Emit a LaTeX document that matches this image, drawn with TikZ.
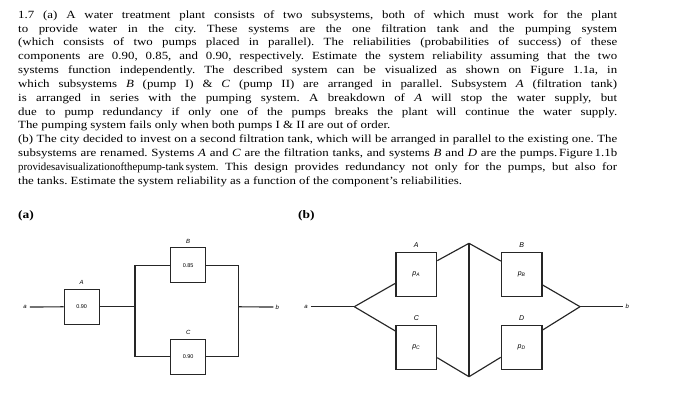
\documentclass[tikz,border=0pt]{standalone}
\usepackage{fontspec}
\setmainfont{Liberation Serif}[FakeStretch=1.17]
\newfontfamily\squeezed{Liberation Serif}[FakeStretch=0.98]
\newfontfamily\diagfont{Liberation Sans}
\begin{document}
\begin{tikzpicture}[x=1pt,y=-1pt,
  blk/.style={draw=black!85, line width=1.15pt, inner sep=0pt, font=\diagfont\fontsize{5.5}{6}\selectfont},
  blkb/.style={blk, minimum width=40.7pt, minimum height=44pt, font=\diagfont\itshape\fontsize{7}{8}\selectfont},
  wire/.style={draw=black!85, line width=1.15pt},
  lab/.style={inner sep=0pt, font=\diagfont\itshape\fontsize{6}{7}\selectfont},
  labb/.style={inner sep=0pt, font=\diagfont\itshape\fontsize{7}{8}\selectfont},
  para/.style={inner sep=0pt, anchor=base west, text width=599pt, align=justify, font=\fontsize{11}{13.83}\selectfont},
  sublab/.style={inner sep=0pt, anchor=base west, font=\bfseries\fontsize{11.5}{12}\selectfont}]
\useasboundingbox (0,0) rectangle (680,402);

% ---------- text ----------
\node[para] (txt) at (18,18.3) {\hbadness=10000\hyphenpenalty=10000\frenchspacing
1.7 (a) A water treatment plant consists of two subsystems, both of which must work for the plant\linebreak
to provide water in the city. These systems are the one filtration tank and the pumping system\linebreak
(which consists of two pumps placed in parallel). The reliabilities (probabilities of success) of these\linebreak
components are 0.90, 0.85, and 0.90, respectively. Estimate the system reliability assuming that the two\linebreak
systems function independently. The described system can be visualized as shown on Figure 1.1a, in\linebreak
which subsystems \textit{B} (pump I) \& \textit{C} (pump II) are arranged in parallel. Subsystem \textit{A} (filtration tank)\linebreak
is arranged in series with the pumping system. A breakdown of \textit{A} will stop the water supply, but\linebreak
due to pump redundancy if only one of the pumps breaks the plant will continue the water supply.\linebreak
The pumping system fails only when both pumps I \& II are out of order.\par
(b) The city decided to invest on a second filtration tank, which will be arranged in parallel to the existing one. The\linebreak
subsystems are renamed. Systems \textit{A} and \textit{C} are the filtration tanks, and systems \textit{B} and \textit{D} are the pumps.\,Figure\,1.1b\linebreak
{\squeezed providesavisualizationofthepump-tank\,system.} This design provides redundancy not only for the pumps, but also for\linebreak
the tanks. Estimate the system reliability as a function of the component's reliabilities.};

\node[sublab] (la) at (18,218) {(a)};
\node[sublab] (lb) at (298,218) {(b)};

% ---------- diagram (a) ----------
\node[lab] (ta) at (25,307) {a};
\node[blk, minimum size=35pt] (A1) at (81.7,306.8) {0.90};
\node[lab] (lA1) at ([yshift=6pt]A1.north) {A};
\coordinate (s1) at (135,306.8);
\coordinate (s1t) at (135,265.2);
\coordinate (s1b) at (135,356.8);
\node[blk, minimum size=35pt] (B1) at (188.2,265.2) {0.85};
\node[lab] (lB1) at ([yshift=5.5pt]B1.north) {B};
\node[blk, minimum size=35pt] (C1) at (188.2,356.8) {0.90};
\node[lab] (lC1) at ([yshift=6pt]C1.north) {C};
\coordinate (m1t) at (238.3,265.2);
\coordinate (m1b) at (238.3,356.8);
\coordinate (m1) at (238.3,306.8);
\node[lab] (tb) at (277.3,307) {b};

\draw[wire] ([xshift=3pt]ta.east) -- (A1.west);
\draw[wire] (A1.east) -- (s1);
\draw[wire] (s1t) -- (s1b);
\draw[wire] (s1t) -- (B1.west);
\draw[wire] (s1b) -- (C1.west);
\draw[wire] (B1.east) -- (m1t);
\draw[wire] (C1.east) -- (m1b);
\draw[wire] (m1t) -- (m1b);
\draw[wire] (m1) -- ([xshift=-2pt]tb.west);

% ---------- diagram (b) ----------
\node[lab] (ta2) at (306,306.7) {a};
\coordinate (f) at (354.3,306.7);
\node[blkb] (A2) at (416.3,274.3) {p\textsubscript{A}};
\node[labb] (lA2) at ([yshift=6.3pt]A2.north) {A};
\node[blkb] (C2) at (416.3,347.2) {p\textsubscript{C}};
\node[labb] (lC2) at ([yshift=6.7pt]C2.north) {C};
\node[blkb] (B2) at (521.7,274.3) {p\textsubscript{B}};
\node[labb] (lB2) at ([yshift=6.3pt]B2.north) {B};
\node[blkb] (D2) at (521.7,347.2) {p\textsubscript{D}};
\node[labb] (lD2) at ([yshift=6.7pt]D2.north) {D};
\coordinate (tp) at (469,243.3);
\coordinate (bt) at (469,376.7);
\coordinate (jn) at (580,306.7);
\node[lab] (tb2) at (627.3,306.7) {b};

\draw[wire] ([xshift=3pt]ta2.east) -- (f);
\draw[wire] (f) -- ([yshift=-9pt]A2.west);
\draw[wire] (f) -- ([yshift=16.2pt]C2.west);
\draw[wire] ([yshift=13.6pt]A2.east) -- (tp);
\draw[wire] ([yshift=-10.5pt]C2.east) -- (bt);
\draw[wire] (tp) -- (bt);
\draw[wire] (tp) -- ([yshift=13.3pt]B2.west);
\draw[wire] (bt) -- ([yshift=-10.1pt]D2.west);
\draw[wire] ([yshift=-10.7pt]B2.east) -- (jn);
\draw[wire] ([yshift=17.2pt]D2.east) -- (jn);
\draw[wire] (jn) -- ([xshift=-2pt]tb2.west);
\end{tikzpicture}
\end{document}
